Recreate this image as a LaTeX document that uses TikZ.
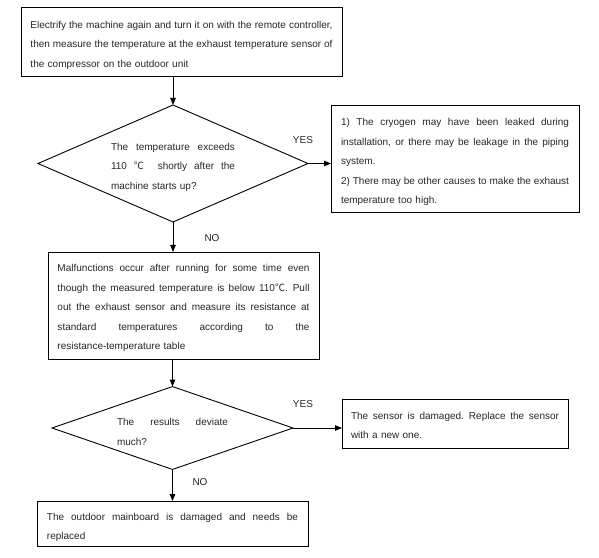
\documentclass[tikz,border=0pt]{standalone}
\usepackage{fontspec}
\setmainfont{Liberation Sans}
\newfontfamily\cjkf{Noto Sans CJK SC}
\usetikzlibrary{shapes.geometric,arrows.meta}
\newcommand{\degC}{{\cjkf ℃}}
\newcommand{\jl}[1]{\makebox[\hsize][s]{\spaceskip=0.278em plus 1fil minus 0.05em\relax #1}}
\newcommand{\tp}{\rule{0pt}{15bp}}
\tikzset{
  txt/.style={font=\fontsize{10bp}{19.5bp}\selectfont, text=black!85},
  box/.style={txt, draw=black, line width=0.9bp, rectangle, inner ysep=0bp, outer sep=0bp, align=left},
  dec/.style={txt, draw=black, line width=0.9bp, diamond, inner sep=0bp, outer sep=0bp, aspect=2.3, align=left},
  lbl/.style={txt, inner sep=0bp},
  arr/.style={draw=black, line width=0.9bp, -{Triangle[length=7bp,width=5.5bp]}}
}
\begin{document}
\begin{tikzpicture}[x=1bp,y=-1bp]
\useasboundingbox (0,0) rectangle (599,558);
\node[box, minimum width=321bp, minimum height=69bp, text width=302bp] (b1) at (181.5,41.5)
 {\tp\jl{Electrify the machine again and turn it on with the remote controller,}\\
  \jl{then measure the temperature at the exhaust temperature sensor of}\\
  the compressor on the outdoor unit};
\node[dec, minimum width=270bp, minimum height=117bp, text width=124bp] (d1) at (173,163.5)
 {\tp\jl{The temperature exceeds}\\
  \jl{110 \degC\ \ shortly after the}\\
  machine starts up?};
\node[box, minimum width=248bp, minimum height=107bp, text width=228bp] (b2) at (455,158.5)
 {\tp\jl{1) The cryogen may have been leaked during}\\
  \jl{installation, or there may be leakage in the piping}\\
  system.\\
  \jl{2) There may be other causes to make the exhaust}\\
  temperature too high.};
\node[box, minimum width=271bp, minimum height=107bp, text width=252bp] (b3) at (183.5,305.5)
 {\rule{0pt}{13bp}\jl{Malfunctions occur after running for some time even}\\
  \jl{though the measured temperature is below 110\degC. Pull}\\
  \jl{out the exhaust sensor and measure its resistance at}\\
  \jl{standard temperatures according to the}\\
  resistance-temperature table};
\node[dec, minimum width=241bp, minimum height=78bp, text width=111bp] (d2) at (172.5,428)
 {\tp\jl{The results deviate}\\
  much?};
\node[box, minimum width=226bp, minimum height=49bp, text width=208bp] (b4) at (455,423.5)
 {\rule{0pt}{11bp}\jl{The sensor is damaged. Replace the sensor}\\
  with a new one.};
\node[box, minimum width=271bp, minimum height=45bp, text width=251bp] (b5) at (172.5,523.5)
 {\tp\jl{The outdoor mainboard is damaged and needs be}\\
  replaced};
\node[lbl] (yes1) at (303,140) {YES};
\node[lbl] (no1) at (212,238) {NO};
\node[lbl] (yes2) at (303,404) {YES};
\node[lbl] (no2) at (200,482) {NO};
\draw[arr] (b1.south -| d1.north) -- (d1.north);
\draw[arr] (d1.east) -- (d1.east -| b2.west);
\draw[arr] (d1.south) -- (d1.south |- b3.north);
\draw[arr] (b3.south -| d2.north) -- (d2.north);
\draw[arr] (d2.east) -- (d2.east -| b4.west);
\draw[arr] (d2.south) -- (d2.south |- b5.north);
\end{tikzpicture}
\end{document}
